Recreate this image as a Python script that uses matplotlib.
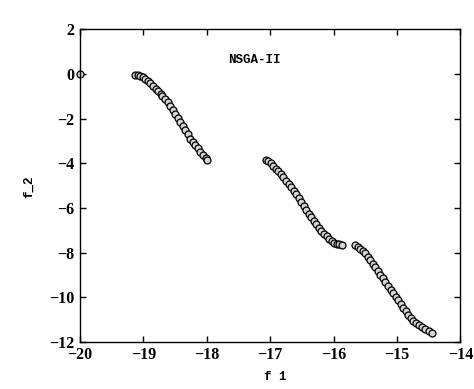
import numpy as np
import matplotlib
matplotlib.use("Agg")
import matplotlib.pyplot as plt

# ===============================
# DATA
# ===============================
x_iso = [-20.0]
y_iso = [0.0]

x_seg1 = [-19.13, -19.09, -19.05, -19.01, -18.97, -18.93, -18.89, -18.85, -18.81, -18.77,
          -18.73, -18.70, -18.66, -18.62, -18.58, -18.54, -18.50, -18.46, -18.42, -18.38,
          -18.34, -18.30, -18.26, -18.22, -18.18, -18.14, -18.10, -18.06, -18.02, -17.99]
y_seg1 = [-0.03, -0.06, -0.10, -0.16, -0.23, -0.31, -0.42, -0.55, -0.68, -0.78,
          -0.88, -0.98, -1.13, -1.28, -1.45, -1.62, -1.79, -1.96, -2.14, -2.32,
          -2.51, -2.70, -2.90, -3.05, -3.19, -3.33, -3.50, -3.64, -3.76, -3.84]

x_seg2 = [-17.07, -17.03, -16.99, -16.95, -16.91, -16.87, -16.83, -16.79, -16.75, -16.71,
          -16.67, -16.63, -16.59, -16.55, -16.51, -16.47, -16.43, -16.39, -16.35, -16.31,
          -16.27, -16.23, -16.19, -16.15, -16.11, -16.07, -16.03, -15.99, -15.95, -15.91, -15.87]
y_seg2 = [-3.84, -3.92, -4.01, -4.12, -4.24, -4.36, -4.49, -4.63, -4.78, -4.93,
          -5.08, -5.24, -5.40, -5.57, -5.75, -5.93, -6.10, -6.27, -6.43, -6.58,
          -6.73, -6.88, -7.02, -7.15, -7.28, -7.40, -7.49, -7.55, -7.60, -7.63, -7.66]

x_seg3 = [-15.66, -15.62, -15.58, -15.54, -15.50, -15.46, -15.42, -15.38, -15.34, -15.30,
          -15.26, -15.22, -15.18, -15.14, -15.10, -15.06, -15.02, -14.98, -14.94, -14.90,
          -14.86, -14.82, -14.78, -14.74, -14.70, -14.65, -14.60, -14.55, -14.50, -14.44]
y_seg3 = [-7.68, -7.74, -7.82, -7.92, -8.04, -8.18, -8.33, -8.49, -8.65, -8.82,
          -8.99, -9.16, -9.33, -9.50, -9.66, -9.82, -9.98, -10.14, -10.30, -10.47,
          -10.63, -10.78, -10.92, -11.05, -11.15, -11.26, -11.35, -11.43, -11.50, -11.58]

x_ticks = [-20, -19, -18, -17, -16, -15, -14]
y_ticks = [2, 0, -2, -4, -6, -8, -10, -12]

# ===============================
# PLOT
# ===============================
fig = plt.figure(figsize=(4.74, 3.89), dpi=100)
ax = fig.add_axes([0.169, 0.121, 0.802, 0.804])

mk = dict(marker="o", linestyle="none", markersize=5.0,
          markerfacecolor="#d4d4d4", markeredgecolor="black", markeredgewidth=0.9)
for xs, ys in [(x_iso, y_iso), (x_seg1, y_seg1), (x_seg2, y_seg2), (x_seg3, y_seg3)]:
    ax.plot(xs, ys, clip_on=False, **mk)

ax.set_xlim(-20, -14)
ax.set_ylim(-12, 2)
ax.set_xticks(x_ticks)
ax.set_yticks(y_ticks)
ax.set_xticklabels([f"\u2212{abs(v)}" if v < 0 else str(v) for v in x_ticks])
ax.set_yticklabels([f"\u2212{abs(v)}" if v < 0 else str(v) for v in y_ticks])

ax.tick_params(direction="in", top=True, right=True, length=4, width=1,
               labelsize=11.5, pad=4)
for lab in ax.get_xticklabels() + ax.get_yticklabels():
    lab.set_family("Liberation Serif")
    lab.set_fontweight("bold")
for sp in ax.spines.values():
    sp.set_linewidth(1.0)

ax.text(-17.66, 0.62, "NSGA-II", family="Liberation Mono", fontsize=9,
        fontweight="bold", va="center", ha="left")

fig.text(0.58, 0.016, "f 1", family="Liberation Mono", fontsize=9,
         fontweight="bold", ha="center", va="bottom")
fig.text(0.062, 0.52, "f_2", family="Liberation Mono", fontsize=9,
         fontweight="bold", rotation=90, ha="center", va="center")

fig.savefig("out.png", dpi=100)
